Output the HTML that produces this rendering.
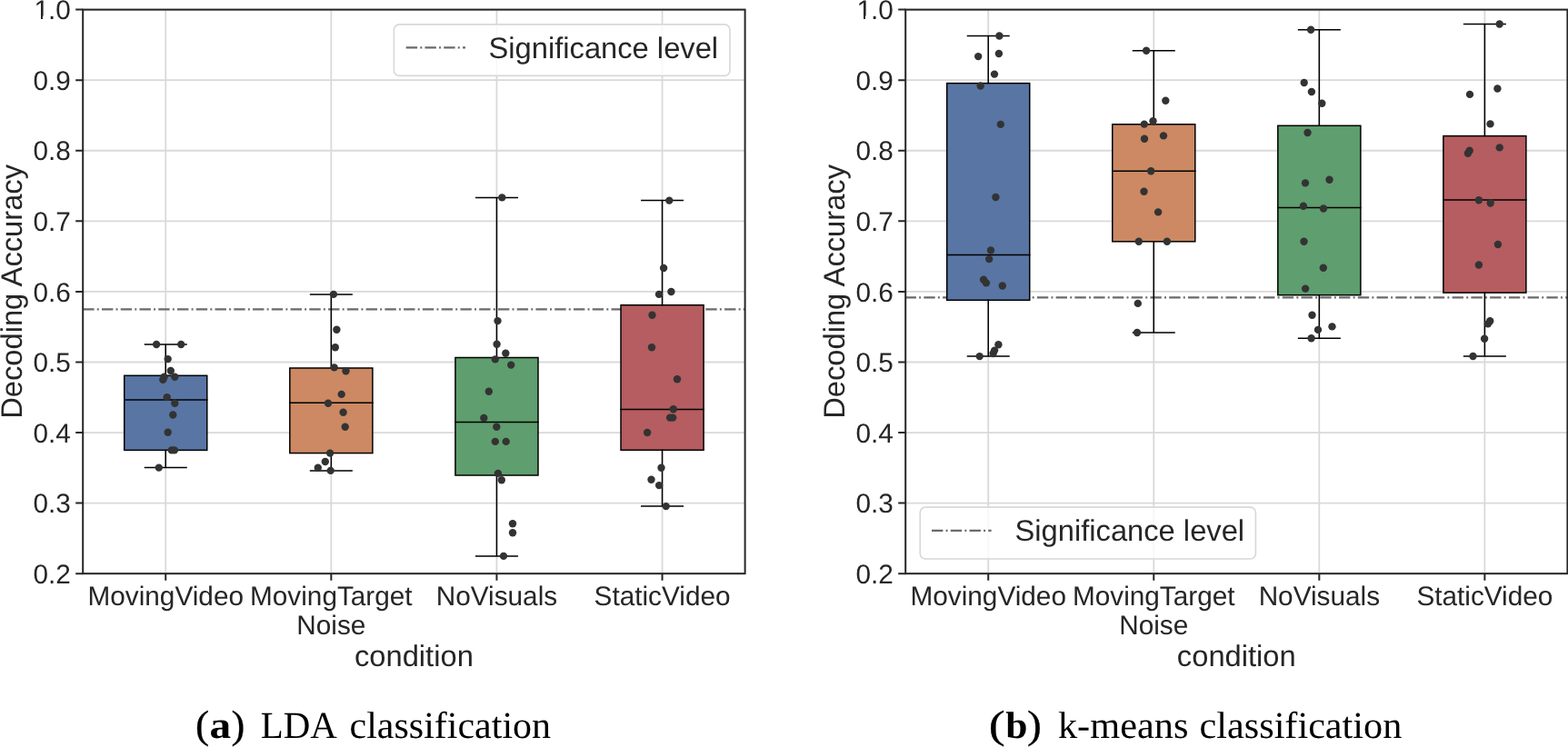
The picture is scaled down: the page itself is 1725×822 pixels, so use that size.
<!DOCTYPE html>
<html><head><meta charset="utf-8"><title>Decoding accuracy boxplots</title>
<style>
html,body{margin:0;padding:0;background:#fff;}
body{width:1725px;height:822px;overflow:hidden;}
svg{display:block;text-rendering:geometricPrecision;}
.t{font-family:"Liberation Sans",Arial,sans-serif;fill:#262626;}
.c{font-family:"Liberation Serif","Times New Roman",serif;fill:#000;}
</style></head><body>
<svg width="1725" height="822" viewBox="0 0 1725 822">
<rect width="1725" height="822" fill="#fff"/>
<g>
<path d="M91.2 631.2H819.6M91.2 553.62H819.6M91.2 476.05H819.6M91.2 398.48H819.6M91.2 320.9H819.6M91.2 243.33H819.6M91.2 165.75H819.6M91.2 88.17H819.6M91.2 10.6H819.6M182.25 10.6V631.2M364.35 10.6V631.2M546.45 10.6V631.2M728.55 10.6V631.2" stroke="#d9d9d9" stroke-width="1.8" fill="none"/>
<path d="M91.2 340.4H819.6" stroke="#6a6a6a" stroke-width="2.3" stroke-dasharray="12.4 3.18 2 3.18" stroke-dashoffset="0" fill="none"/>
<rect x="136.72" y="413.3" width="91.05" height="82.1" fill="#5875a4" stroke="#000000" stroke-width="1.5"/>
<path d="M136.72 440H227.77M182.25 413.3V379M182.25 495.4V514.6M159.49 379H205.01M159.49 514.6H205.01" stroke="#000000" stroke-width="1.5" stroke-linecap="square" fill="none"/>
<rect x="318.82" y="405" width="91.05" height="93.6" fill="#cc8963" stroke="#000000" stroke-width="1.5"/>
<path d="M318.82 443.2H409.88M364.35 405V323.9M364.35 498.6V517.9M341.59 323.9H387.11M341.59 517.9H387.11" stroke="#000000" stroke-width="1.5" stroke-linecap="square" fill="none"/>
<rect x="500.93" y="393.5" width="91.05" height="129.5" fill="#5f9e6e" stroke="#000000" stroke-width="1.5"/>
<path d="M500.93 464.6H591.98M546.45 393.5V217.4M546.45 523V611.9M523.69 217.4H569.21M523.69 611.9H569.21" stroke="#000000" stroke-width="1.5" stroke-linecap="square" fill="none"/>
<rect x="683.03" y="335.7" width="91.05" height="159.6" fill="#b55d60" stroke="#000000" stroke-width="1.5"/>
<path d="M683.03 450.6H774.08M728.55 335.7V220.6M728.55 495.3V557.1M705.79 220.6H751.31M705.79 557.1H751.31" stroke="#000000" stroke-width="1.5" stroke-linecap="square" fill="none"/>
<g fill="#333333"><circle cx="172.1" cy="379" r="4.2"/><circle cx="199.2" cy="379" r="4.2"/><circle cx="184.7" cy="395.1" r="4.2"/><circle cx="187.8" cy="408" r="4.2"/><circle cx="180.6" cy="414.8" r="4.2"/><circle cx="179.3" cy="417.9" r="4.2"/><circle cx="192.3" cy="414.8" r="4.2"/><circle cx="183.7" cy="437.1" r="4.2"/><circle cx="192.3" cy="443.7" r="4.2"/><circle cx="190.3" cy="456.5" r="4.2"/><circle cx="184.7" cy="475.7" r="4.2"/><circle cx="188.8" cy="495.4" r="4.2"/><circle cx="191.9" cy="495.4" r="4.2"/><circle cx="174.8" cy="514.6" r="4.2"/><circle cx="366.9" cy="323.9" r="4.2"/><circle cx="370.4" cy="362.7" r="4.2"/><circle cx="368.8" cy="382.2" r="4.2"/><circle cx="367.7" cy="404.4" r="4.2"/><circle cx="380.5" cy="408.2" r="4.2"/><circle cx="375.7" cy="433.9" r="4.2"/><circle cx="361" cy="443.8" r="4.2"/><circle cx="377.6" cy="453.7" r="4.2"/><circle cx="379.7" cy="469.7" r="4.2"/><circle cx="363.1" cy="498.6" r="4.2"/><circle cx="357.8" cy="508" r="4.2"/><circle cx="349.8" cy="514.7" r="4.2"/><circle cx="363.7" cy="517.9" r="4.2"/><circle cx="552.3" cy="217.4" r="4.2"/><circle cx="547.5" cy="353.1" r="4.2"/><circle cx="546.6" cy="378.8" r="4.2"/><circle cx="556.3" cy="388.7" r="4.2"/><circle cx="544.8" cy="395.4" r="4.2"/><circle cx="562.2" cy="401.6" r="4.2"/><circle cx="537.8" cy="430.8" r="4.2"/><circle cx="532.3" cy="460" r="4.2"/><circle cx="546.3" cy="469.8" r="4.2"/><circle cx="544.8" cy="485.9" r="4.2"/><circle cx="556.7" cy="485.9" r="4.2"/><circle cx="547.9" cy="520.9" r="4.2"/><circle cx="551.8" cy="528.2" r="4.2"/><circle cx="564" cy="576.3" r="4.2"/><circle cx="564" cy="586.3" r="4.2"/><circle cx="554" cy="611.9" r="4.2"/><circle cx="736.3" cy="220.6" r="4.2"/><circle cx="730.1" cy="295" r="4.2"/><circle cx="725" cy="323.9" r="4.2"/><circle cx="738.4" cy="321" r="4.2"/><circle cx="717.5" cy="346.7" r="4.2"/><circle cx="717" cy="382.3" r="4.2"/><circle cx="745" cy="417.3" r="4.2"/><circle cx="740.8" cy="450.2" r="4.2"/><circle cx="737.1" cy="459.6" r="4.2"/><circle cx="740.2" cy="459.6" r="4.2"/><circle cx="712.1" cy="476" r="4.2"/><circle cx="727.5" cy="514.8" r="4.2"/><circle cx="716.5" cy="527.7" r="4.2"/><circle cx="725.1" cy="534.1" r="4.2"/><circle cx="732.7" cy="557.1" r="4.2"/></g>
<rect x="433.4" y="26.9" width="369.6" height="56.5" rx="6" fill="#fff" fill-opacity="0.8" stroke="#d8d8d8" stroke-width="1.6"/>
<path d="M446.7 52.3H512" stroke="#6a6a6a" stroke-width="2.3" stroke-dasharray="12.4 3.18 2 3.18" fill="none"/>
<text class="t" x="537.54" y="63.5" font-size="32.7">Significance level</text>
<rect x="91.2" y="10.6" width="728.4" height="620.6" fill="none" stroke="#262626" stroke-width="2"/>
<path d="M83.2 631.2H91.2M83.2 553.62H91.2M83.2 476.05H91.2M83.2 398.48H91.2M83.2 320.9H91.2M83.2 243.33H91.2M83.2 165.75H91.2M83.2 88.17H91.2M83.2 10.6H91.2M182.25 631.2V638.7M364.35 631.2V638.7M546.45 631.2V638.7M728.55 631.2V638.7" stroke="#262626" stroke-width="2" fill="none"/>
<text class="t" x="77.9" y="641.8" font-size="29.75" text-anchor="end">0.2</text>
<text class="t" x="77.9" y="564.23" font-size="29.75" text-anchor="end">0.3</text>
<text class="t" x="77.9" y="486.65" font-size="29.75" text-anchor="end">0.4</text>
<text class="t" x="77.9" y="409.08" font-size="29.75" text-anchor="end">0.5</text>
<text class="t" x="77.9" y="331.5" font-size="29.75" text-anchor="end">0.6</text>
<text class="t" x="77.9" y="253.93" font-size="29.75" text-anchor="end">0.7</text>
<text class="t" x="77.9" y="176.35" font-size="29.75" text-anchor="end">0.8</text>
<text class="t" x="77.9" y="98.77" font-size="29.75" text-anchor="end">0.9</text>
<text class="t" y="21.2" font-size="29.75" text-anchor="end"><tspan x="53.99">1</tspan><tspan x="77.9">.0</tspan></text>
<path d="M39 17.6h6v3.6h-6zM47 17.6h6v3.6h-6z" fill="#fff"/>
<text class="t" font-size="29.75" text-anchor="middle"><tspan x="182.25" y="665.9">MovingVideo</tspan></text>
<text class="t" font-size="29.75" text-anchor="middle"><tspan x="364.35" y="665.9">MovingTarget</tspan><tspan x="364.35" y="698.1">Noise</tspan></text>
<text class="t" font-size="29.75" text-anchor="middle"><tspan x="546.45" y="665.9">NoVisuals</tspan></text>
<text class="t" font-size="29.75" text-anchor="middle"><tspan x="728.55" y="665.9">StaticVideo</tspan></text>
<text class="t" x="455.4" y="733.3" font-size="32.7" text-anchor="middle">condition</text>
<text class="t" x="0" y="0" font-size="32.7" text-anchor="middle" transform="translate(24 320.9) rotate(-90)">Decoding Accuracy</text>
</g>
<g>
<path d="M996.2 631.2H1724.4M996.2 553.62H1724.4M996.2 476.05H1724.4M996.2 398.48H1724.4M996.2 320.9H1724.4M996.2 243.33H1724.4M996.2 165.75H1724.4M996.2 88.17H1724.4M996.2 10.6H1724.4M1087.23 10.6V631.2M1269.28 10.6V631.2M1451.33 10.6V631.2M1633.38 10.6V631.2" stroke="#d9d9d9" stroke-width="1.8" fill="none"/>
<path d="M996.2 327.3H1724.4" stroke="#6a6a6a" stroke-width="2.3" stroke-dasharray="12.4 3.18 2 3.18" stroke-dashoffset="0.65" fill="none"/>
<rect x="1041.71" y="91.6" width="91.03" height="238.7" fill="#5875a4" stroke="#000000" stroke-width="1.5"/>
<path d="M1041.71 280.5H1132.74M1087.23 91.6V39.5M1087.23 330.3V392.1M1064.47 39.5H1109.98M1064.47 392.1H1109.98" stroke="#000000" stroke-width="1.5" stroke-linecap="square" fill="none"/>
<rect x="1223.76" y="136.8" width="91.03" height="129" fill="#cc8963" stroke="#000000" stroke-width="1.5"/>
<path d="M1223.76 188.2H1314.79M1269.28 136.8V55.8M1269.28 265.8V366M1246.52 55.8H1292.03M1246.52 366H1292.03" stroke="#000000" stroke-width="1.5" stroke-linecap="square" fill="none"/>
<rect x="1405.81" y="138.3" width="91.03" height="186.4" fill="#5f9e6e" stroke="#000000" stroke-width="1.5"/>
<path d="M1405.81 228.6H1496.84M1451.33 138.3V32.8M1451.33 324.7V372.3M1428.57 32.8H1474.08M1428.57 372.3H1474.08" stroke="#000000" stroke-width="1.5" stroke-linecap="square" fill="none"/>
<rect x="1587.86" y="149.6" width="91.03" height="172.5" fill="#b55d60" stroke="#000000" stroke-width="1.5"/>
<path d="M1587.86 220H1678.89M1633.38 149.6V26.5M1633.38 322.1V392M1610.62 26.5H1656.13M1610.62 392H1656.13" stroke="#000000" stroke-width="1.5" stroke-linecap="square" fill="none"/>
<g fill="#333333"><circle cx="1099.4" cy="39.5" r="4.2"/><circle cx="1098.9" cy="59" r="4.2"/><circle cx="1076.2" cy="62.1" r="4.2"/><circle cx="1094" cy="81.6" r="4.2"/><circle cx="1078.7" cy="94.5" r="4.2"/><circle cx="1100.8" cy="136.9" r="4.2"/><circle cx="1095.4" cy="217" r="4.2"/><circle cx="1090" cy="275.4" r="4.2"/><circle cx="1088.2" cy="285.1" r="4.2"/><circle cx="1082.1" cy="307.8" r="4.2"/><circle cx="1084.9" cy="311.4" r="4.2"/><circle cx="1102.8" cy="314.5" r="4.2"/><circle cx="1098.4" cy="379.2" r="4.2"/><circle cx="1094.1" cy="385.6" r="4.2"/><circle cx="1092.6" cy="389" r="4.2"/><circle cx="1077.7" cy="392.1" r="4.2"/><circle cx="1261.1" cy="55.8" r="4.2"/><circle cx="1282.3" cy="110.8" r="4.2"/><circle cx="1268.5" cy="133.3" r="4.2"/><circle cx="1258.8" cy="136.6" r="4.2"/><circle cx="1280" cy="149.4" r="4.2"/><circle cx="1259" cy="152.7" r="4.2"/><circle cx="1266.2" cy="188.2" r="4.2"/><circle cx="1258.5" cy="210.7" r="4.2"/><circle cx="1274.1" cy="233.4" r="4.2"/><circle cx="1252.8" cy="265.8" r="4.2"/><circle cx="1283.9" cy="265.8" r="4.2"/><circle cx="1251.8" cy="333.9" r="4.2"/><circle cx="1251" cy="366" r="4.2"/><circle cx="1442.1" cy="32.8" r="4.2"/><circle cx="1434.7" cy="91" r="4.2"/><circle cx="1442.9" cy="101" r="4.2"/><circle cx="1454.3" cy="113.8" r="4.2"/><circle cx="1438.5" cy="146" r="4.2"/><circle cx="1462.5" cy="197.8" r="4.2"/><circle cx="1436" cy="201.4" r="4.2"/><circle cx="1433.9" cy="226.7" r="4.2"/><circle cx="1456" cy="229.5" r="4.2"/><circle cx="1434.5" cy="265.8" r="4.2"/><circle cx="1455.8" cy="294.7" r="4.2"/><circle cx="1436.1" cy="317.6" r="4.2"/><circle cx="1443.5" cy="346.7" r="4.2"/><circle cx="1465.5" cy="359.4" r="4.2"/><circle cx="1450" cy="362.9" r="4.2"/><circle cx="1442.6" cy="372.3" r="4.2"/><circle cx="1649.7" cy="26.5" r="4.2"/><circle cx="1647.4" cy="97.5" r="4.2"/><circle cx="1617" cy="103.9" r="4.2"/><circle cx="1639.5" cy="136.4" r="4.2"/><circle cx="1616.7" cy="165.7" r="4.2"/><circle cx="1614.9" cy="168.8" r="4.2"/><circle cx="1649.7" cy="162.4" r="4.2"/><circle cx="1626.9" cy="220.3" r="4.2"/><circle cx="1639.7" cy="223.5" r="4.2"/><circle cx="1647.9" cy="269" r="4.2"/><circle cx="1626.9" cy="291.5" r="4.2"/><circle cx="1639.2" cy="353.3" r="4.2"/><circle cx="1636.9" cy="356.4" r="4.2"/><circle cx="1633.1" cy="372.7" r="4.2"/><circle cx="1620.5" cy="392" r="4.2"/></g>
<rect x="1012.2" y="558.1" width="369.2" height="56.9" rx="6" fill="#fff" fill-opacity="0.8" stroke="#d8d8d8" stroke-width="1.6"/>
<path d="M1025 583.9H1090.6" stroke="#6a6a6a" stroke-width="2.3" stroke-dasharray="12.4 3.18 2 3.18" fill="none"/>
<text class="t" x="1116.54" y="594.9" font-size="32.7">Significance level</text>
<rect x="996.2" y="10.6" width="728.2" height="620.6" fill="none" stroke="#262626" stroke-width="2"/>
<path d="M988.2 631.2H996.2M988.2 553.62H996.2M988.2 476.05H996.2M988.2 398.48H996.2M988.2 320.9H996.2M988.2 243.33H996.2M988.2 165.75H996.2M988.2 88.17H996.2M988.2 10.6H996.2M1087.23 631.2V638.7M1269.28 631.2V638.7M1451.33 631.2V638.7M1633.38 631.2V638.7" stroke="#262626" stroke-width="2" fill="none"/>
<text class="t" x="982.9" y="641.8" font-size="29.75" text-anchor="end">0.2</text>
<text class="t" x="982.9" y="564.23" font-size="29.75" text-anchor="end">0.3</text>
<text class="t" x="982.9" y="486.65" font-size="29.75" text-anchor="end">0.4</text>
<text class="t" x="982.9" y="409.08" font-size="29.75" text-anchor="end">0.5</text>
<text class="t" x="982.9" y="331.5" font-size="29.75" text-anchor="end">0.6</text>
<text class="t" x="982.9" y="253.93" font-size="29.75" text-anchor="end">0.7</text>
<text class="t" x="982.9" y="176.35" font-size="29.75" text-anchor="end">0.8</text>
<text class="t" x="982.9" y="98.77" font-size="29.75" text-anchor="end">0.9</text>
<text class="t" y="21.2" font-size="29.75" text-anchor="end"><tspan x="958.99">1</tspan><tspan x="982.9">.0</tspan></text>
<path d="M944 17.6h6v3.6h-6zM952 17.6h6v3.6h-6z" fill="#fff"/>
<text class="t" font-size="29.75" text-anchor="middle"><tspan x="1087.23" y="665.9">MovingVideo</tspan></text>
<text class="t" font-size="29.75" text-anchor="middle"><tspan x="1269.28" y="665.9">MovingTarget</tspan><tspan x="1269.28" y="698.1">Noise</tspan></text>
<text class="t" font-size="29.75" text-anchor="middle"><tspan x="1451.33" y="665.9">NoVisuals</tspan></text>
<text class="t" font-size="29.75" text-anchor="middle"><tspan x="1633.38" y="665.9">StaticVideo</tspan></text>
<text class="t" x="1360.3" y="733.3" font-size="32.7" text-anchor="middle">condition</text>
<text class="t" x="0" y="0" font-size="32.7" text-anchor="middle" transform="translate(929 320.9) rotate(-90)">Decoding Accuracy</text>
</g>
<text class="c" y="811.8"><tspan x="214.95" font-size="43.5" font-weight="normal" textLength="15.15" lengthAdjust="spacingAndGlyphs" stroke="#000" stroke-width="0.3">(</tspan><tspan x="230.58" font-size="41.5" font-weight="bold" textLength="23.63" lengthAdjust="spacingAndGlyphs">a</tspan><tspan x="254.46" font-size="43.5" font-weight="normal" textLength="14.86" lengthAdjust="spacingAndGlyphs" stroke="#000" stroke-width="0.3">)</tspan> <tspan x="286.67" font-size="41.5" font-weight="normal" textLength="84.14" lengthAdjust="spacingAndGlyphs">LDA</tspan> <tspan x="384.52" font-size="41.5" font-weight="normal" textLength="221.54" lengthAdjust="spacingAndGlyphs">classification</tspan></text>
<text class="c" y="811.8"><tspan x="1087.66" font-size="43.5" font-weight="normal" textLength="18.02" lengthAdjust="spacingAndGlyphs" stroke="#000" stroke-width="0.3">(</tspan><tspan x="1106.15" font-size="41.5" font-weight="bold" textLength="24.25" lengthAdjust="spacingAndGlyphs">b</tspan><tspan x="1129.97" font-size="43.5" font-weight="normal" textLength="15.88" lengthAdjust="spacingAndGlyphs" stroke="#000" stroke-width="0.3">)</tspan> <tspan x="1163.95" font-size="41.5" font-weight="normal" textLength="143.43" lengthAdjust="spacingAndGlyphs">k-means</tspan> <tspan x="1319.61" font-size="41.5" font-weight="normal" textLength="222.65" lengthAdjust="spacingAndGlyphs">classification</tspan></text>
</svg>
</body></html>
